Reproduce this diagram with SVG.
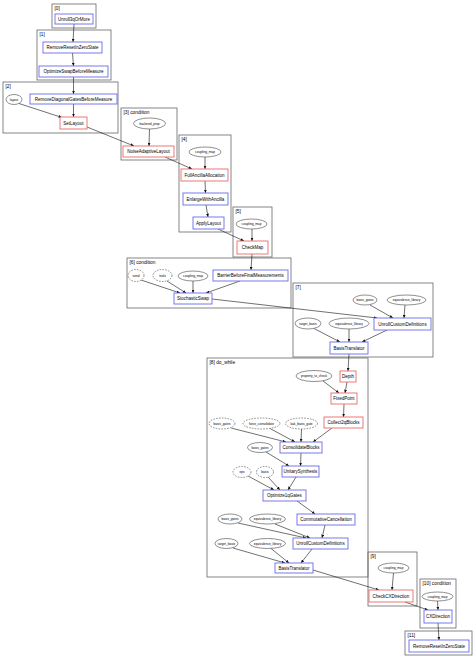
<svg xmlns="http://www.w3.org/2000/svg" width="474" height="660" viewBox="0 0 474 660">
<defs>
<marker id="ah" markerWidth="3.4" markerHeight="3" refX="3.4" refY="1.5" orient="auto" markerUnits="userSpaceOnUse">
<path d="M0,0 L3.4,1.5 L0,3 Z" fill="#111"/>
</marker>
<style>
.cl{fill:none;stroke:#666;stroke-width:0.8}
.cll{font-family:"Liberation Sans",Arial,sans-serif;font-size:4.8px;fill:#000}
.b{fill:#fff;stroke:#6a6ae8;stroke-width:0.9}
.r{fill:#fff;stroke:#e86a6a;stroke-width:0.9}
.t{font-family:"Liberation Sans",Arial,sans-serif;font-size:4.5px;fill:#000;text-anchor:middle}
.e{fill:#fff;stroke:#444;stroke-width:0.6}
.d{fill:#fff;stroke:#444;stroke-width:0.6;stroke-dasharray:1.6,1.2}
.et{font-family:"Liberation Sans",Arial,sans-serif;font-size:3.2px;fill:#000;text-anchor:middle}
.ed{fill:none;stroke:#111;stroke-width:0.6;marker-end:url(#ah)}
</style>
</defs>
<rect width="474" height="660" fill="#fff"/>
<g id="clusters">
<rect class="cl" x="52" y="4" width="44" height="24"/><text class="cll" x="54.5" y="10">[0]</text>
<rect class="cl" x="37" y="30" width="74" height="50"/><text class="cll" x="39.5" y="36">[1]</text>
<rect class="cl" x="3" y="82" width="115" height="51"/><text class="cll" x="5.5" y="88">[2]</text>
<rect class="cl" x="121" y="108" width="56" height="52"/><text class="cll" x="123.5" y="114">[3] condition</text>
<rect class="cl" x="179" y="135" width="52" height="97"/><text class="cll" x="181.5" y="141">[4]</text>
<rect class="cl" x="233" y="207" width="39" height="50"/><text class="cll" x="235.5" y="213">[5]</text>
<rect class="cl" x="127" y="258" width="164" height="50"/><text class="cll" x="129.5" y="264">[6] condition</text>
<rect class="cl" x="293" y="283" width="140" height="74"/><text class="cll" x="295.5" y="289">[7]</text>
<rect class="cl" x="207" y="358" width="161" height="219"/><text class="cll" x="209.5" y="364">[8] do_while</text>
<rect class="cl" x="368" y="552" width="49" height="54"/><text class="cll" x="370.5" y="558">[9]</text>
<rect class="cl" x="420" y="579" width="36" height="49"/><text class="cll" x="422.5" y="585">[10] condition</text>
<rect class="cl" x="405" y="631" width="67" height="24"/><text class="cll" x="407.5" y="637">[11]</text>
</g>
<g id="edges">
<line class="ed" x1="74" y1="24" x2="73" y2="42"/>
<line class="ed" x1="72.5" y1="53" x2="73.5" y2="66"/>
<line class="ed" x1="73.5" y1="77" x2="73.5" y2="94"/>
<line class="ed" x1="73.5" y1="104" x2="73.5" y2="117"/>
<line class="ed" x1="19" y1="103.5" x2="62" y2="117.5"/>
<line class="ed" x1="87" y1="127" x2="134" y2="146"/>
<line class="ed" x1="149.5" y1="129" x2="149" y2="146"/>
<line class="ed" x1="165" y1="157" x2="192" y2="169"/>
<line class="ed" x1="205" y1="157" x2="205" y2="169"/>
<line class="ed" x1="205" y1="181" x2="205.5" y2="193"/>
<line class="ed" x1="206" y1="205" x2="208" y2="217"/>
<line class="ed" x1="218" y1="229" x2="244" y2="241"/>
<line class="ed" x1="252" y1="229" x2="252" y2="241"/>
<line class="ed" x1="252" y1="254" x2="251" y2="270"/>
<line class="ed" x1="141" y1="280" x2="180" y2="293"/>
<line class="ed" x1="167" y1="281" x2="186" y2="293"/>
<line class="ed" x1="193" y1="281" x2="193" y2="293"/>
<line class="ed" x1="240" y1="281" x2="206" y2="293"/>
<line class="ed" x1="212" y1="299" x2="377" y2="318"/>
<line class="ed" x1="370" y1="305" x2="393" y2="318"/>
<line class="ed" x1="405" y1="305" x2="404" y2="318"/>
<line class="ed" x1="314" y1="328.5" x2="340" y2="342"/>
<line class="ed" x1="349" y1="329" x2="349" y2="342"/>
<line class="ed" x1="387" y1="330" x2="362" y2="342"/>
<line class="ed" x1="349" y1="354" x2="348" y2="371"/>
<line class="ed" x1="323" y1="381" x2="339" y2="393"/>
<line class="ed" x1="347" y1="382" x2="345" y2="393"/>
<line class="ed" x1="344" y1="404" x2="343.5" y2="417"/>
<line class="ed" x1="231" y1="428" x2="286" y2="442"/>
<line class="ed" x1="270" y1="428.5" x2="295" y2="442"/>
<line class="ed" x1="301.5" y1="429" x2="301" y2="442"/>
<line class="ed" x1="332" y1="428" x2="313" y2="442"/>
<line class="ed" x1="301" y1="453" x2="300.5" y2="466"/>
<line class="ed" x1="266" y1="452" x2="289" y2="466"/>
<line class="ed" x1="248" y1="476" x2="274" y2="490"/>
<line class="ed" x1="268" y1="477" x2="280" y2="490"/>
<line class="ed" x1="296" y1="477" x2="288" y2="490"/>
<line class="ed" x1="297" y1="501" x2="315" y2="514"/>
<line class="ed" x1="325" y1="525" x2="322" y2="538"/>
<line class="ed" x1="238" y1="523" x2="306" y2="538"/>
<line class="ed" x1="275" y1="524" x2="310" y2="538"/>
<line class="ed" x1="233" y1="548" x2="285" y2="563"/>
<line class="ed" x1="271" y1="548.5" x2="289" y2="563"/>
<line class="ed" x1="312" y1="549" x2="301" y2="563"/>
<line class="ed" x1="313" y1="570" x2="379" y2="590"/>
<line class="ed" x1="393.5" y1="573" x2="392" y2="590"/>
<line class="ed" x1="405" y1="602" x2="428" y2="610"/>
<line class="ed" x1="437.5" y1="601" x2="438" y2="610"/>
<line class="ed" x1="438" y1="623" x2="439" y2="640"/>
</g>
<g id="n0"><rect class="b" x="55" y="14" width="38" height="10"/><text class="t" x="74" y="20.6">Unroll3qOrMore</text></g>
<g id="n1a"><rect class="b" x="43" y="42" width="59" height="11"/><text class="t" x="72.5" y="49.1">RemoveResetInZeroState</text></g>
<g id="n1b"><rect class="b" x="39" y="66" width="69" height="11"/><text class="t" x="73.5" y="73.1">OptimizeSwapBeforeMeasure</text></g>
<g id="n2a"><rect class="b" x="30" y="94" width="87" height="10"/><text class="t" x="73.5" y="100.6">RemoveDiagonalGatesBeforeMeasure</text></g>
<g id="n2b"><rect class="r" x="60" y="117" width="27" height="12"/><text class="t" x="73.5" y="124.6">SetLayout</text></g>
<g id="e2"><ellipse class="e" cx="14" cy="99.5" rx="8" ry="5"/><text class="et" x="14" y="100.6">layout</text></g>
<g id="n3"><rect class="r" x="123" y="146" width="51" height="11"/><text class="t" x="148.5" y="153.1">NoiseAdaptiveLayout</text></g>
<g id="e3"><ellipse class="e" cx="149.5" cy="123.5" rx="16" ry="5.5"/><text class="et" x="149.5" y="124.6">backend_prop</text></g>
<g id="n4a"><rect class="r" x="181" y="169" width="47" height="12"/><text class="t" x="204.5" y="176.6">FullAncillaAllocation</text></g>
<g id="n4b"><rect class="b" x="183" y="193" width="45" height="12"/><text class="t" x="205.5" y="200.6">EnlargeWithAncilla</text></g>
<g id="n4c"><rect class="b" x="193" y="217" width="31" height="12"/><text class="t" x="208.5" y="224.6">ApplyLayout</text></g>
<g id="e4"><ellipse class="e" cx="205" cy="152" rx="16" ry="5"/><text class="et" x="205" y="153.1">coupling_map</text></g>
<g id="n5"><rect class="r" x="237" y="241" width="31" height="13"/><text class="t" x="252.5" y="249.1">CheckMap</text></g>
<g id="e5"><ellipse class="e" cx="251.5" cy="224" rx="15.5" ry="5"/><text class="et" x="251.5" y="225.1">coupling_map</text></g>
<g id="n6a"><rect class="b" x="213" y="270" width="75" height="11"/><text class="t" x="250.5" y="277.1">BarrierBeforeFinalMeasurements</text></g>
<g id="n6b"><rect class="b" x="174" y="293" width="38" height="11"/><text class="t" x="193" y="300.1">StochasticSwap</text></g>
<g id="e6a"><ellipse class="d" cx="136" cy="275.5" rx="8" ry="6"/><text class="et" x="136" y="276.6">seed</text></g>
<g id="e6b"><ellipse class="d" cx="162.5" cy="275.5" rx="9.5" ry="6"/><text class="et" x="162.5" y="276.6">trials</text></g>
<g id="e6c"><ellipse class="e" cx="193" cy="276" rx="15" ry="5"/><text class="et" x="193" y="277.1">coupling_map</text></g>
<g id="n7a"><rect class="b" x="374" y="318" width="57" height="12"/><text class="t" x="402.5" y="325.6">UnrollCustomDefinitions</text></g>
<g id="n7b"><rect class="b" x="330" y="342" width="38" height="12"/><text class="t" x="349" y="349.6">BasisTranslator</text></g>
<g id="e7a"><ellipse class="e" cx="365" cy="300" rx="12" ry="5"/><text class="et" x="365" y="301.1">basis_gates</text></g>
<g id="e7b"><ellipse class="e" cx="406.5" cy="300" rx="19.5" ry="5"/><text class="et" x="406.5" y="301.1">equivalence_library</text></g>
<g id="e7c"><ellipse class="e" cx="308" cy="323.5" rx="13" ry="5.5"/><text class="et" x="308" y="324.6">target_basis</text></g>
<g id="e7d"><ellipse class="e" cx="349" cy="323.5" rx="20" ry="5.5"/><text class="et" x="349" y="324.6">equivalence_library</text></g>
<g id="n8a"><rect class="r" x="340" y="371" width="16" height="11"/><text class="t" x="348" y="378.1">Depth</text></g>
<g id="n8b"><rect class="r" x="331" y="393" width="26" height="11"/><text class="t" x="344" y="400.1">FixedPoint</text></g>
<g id="n8c"><rect class="r" x="324" y="417" width="39" height="11"/><text class="t" x="343.5" y="424.1">Collect2qBlocks</text></g>
<g id="e8a"><ellipse class="e" cx="314" cy="376" rx="18" ry="5.5"/><text class="et" x="314" y="377.1">property_to_check</text></g>
<g id="e8b"><ellipse class="d" cx="222" cy="423.5" rx="13" ry="5.5"/><text class="et" x="222" y="424.6">basis_gates</text></g>
<g id="e8c"><ellipse class="d" cx="261.5" cy="423.5" rx="18.5" ry="5.5"/><text class="et" x="261.5" y="424.6">force_consolidate</text></g>
<g id="e8d"><ellipse class="d" cx="301.5" cy="423.5" rx="16" ry="5.5"/><text class="et" x="301.5" y="424.6">kak_basis_gate</text></g>
<g id="n8d"><rect class="b" x="280" y="442" width="42" height="11"/><text class="t" x="301" y="449.1">ConsolidateBlocks</text></g>
<g id="e8e"><ellipse class="e" cx="260" cy="447.5" rx="12.5" ry="5"/><text class="et" x="260" y="448.6">basis_gates</text></g>
<g id="n8e"><rect class="b" x="282" y="466" width="37" height="11"/><text class="t" x="300.5" y="473.1">UnitarySynthesis</text></g>
<g id="e8f"><ellipse class="d" cx="242" cy="472" rx="9" ry="5.5"/><text class="et" x="242" y="473.1">eps</text></g>
<g id="e8g"><ellipse class="d" cx="265" cy="472" rx="8.5" ry="5.5"/><text class="et" x="265" y="473.1">basis</text></g>
<g id="n8f"><rect class="b" x="263" y="490" width="43" height="11"/><text class="t" x="284.5" y="497.1">Optimize1qGates</text></g>
<g id="n8g"><rect class="b" x="297" y="514" width="58" height="11"/><text class="t" x="326" y="521.1">CommutativeCancellation</text></g>
<g id="e8h"><ellipse class="e" cx="230" cy="519" rx="12" ry="5"/><text class="et" x="230" y="520.1">basis_gates</text></g>
<g id="e8i"><ellipse class="e" cx="267.5" cy="519" rx="18" ry="5"/><text class="et" x="267.5" y="520.1">equivalence_library</text></g>
<g id="n8h"><rect class="b" x="293" y="538" width="55" height="11"/><text class="t" x="320.5" y="545.1">UnrollCustomDefinitions</text></g>
<g id="e8j"><ellipse class="e" cx="226.5" cy="543.5" rx="11.5" ry="5"/><text class="et" x="226.5" y="544.6">target_basis</text></g>
<g id="e8k"><ellipse class="e" cx="267.5" cy="543.5" rx="18" ry="5"/><text class="et" x="267.5" y="544.6">equivalence_library</text></g>
<g id="n8i"><rect class="b" x="275" y="563" width="38" height="10"/><text class="t" x="294" y="569.6">BasisTranslator</text></g>
<g id="n9"><rect class="r" x="369" y="590" width="44" height="12"/><text class="t" x="391" y="597.6">CheckCXDirection</text></g>
<g id="e9"><ellipse class="e" cx="393.5" cy="568" rx="15.5" ry="5"/><text class="et" x="393.5" y="569.1">coupling_map</text></g>
<g id="n10"><rect class="b" x="424" y="610" width="28" height="13"/><text class="t" x="438" y="618.1">CXDirection</text></g>
<g id="e10"><ellipse class="e" cx="437.5" cy="596.5" rx="15.5" ry="4.5"/><text class="et" x="437.5" y="597.6">coupling_map</text></g>
<g id="n11"><rect class="b" x="409" y="640" width="60" height="12"/><text class="t" x="439" y="647.6">RemoveResetInZeroState</text></g>
</svg>
